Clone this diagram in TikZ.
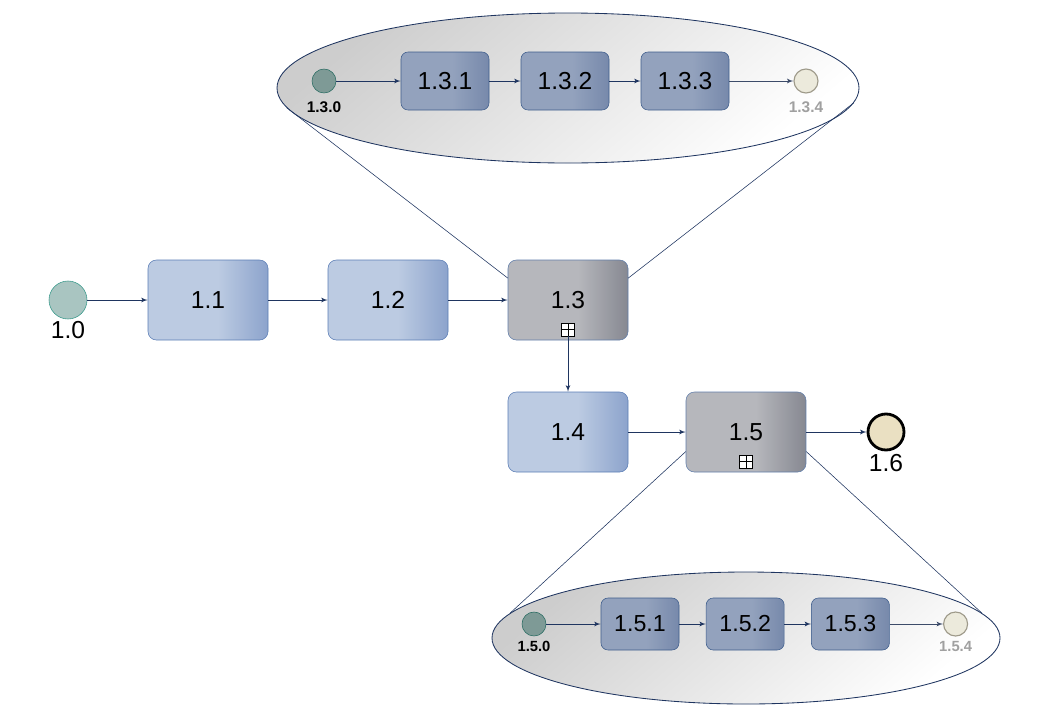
\documentclass[tikz,border=0pt]{standalone}
\usepackage{fontspec}
\setmainfont{Liberation Sans}
\usepackage{xcolor}
\usepackage{tikz}
\usetikzlibrary{shapes,arrows,positioning}

\definecolor{navy}{HTML}{1F3560}
\definecolor{taskfill}{HTML}{BCCBE2}
\definecolor{taskdark}{HTML}{8CA3CC}
\definecolor{taskline}{HTML}{5A7DB5}
\definecolor{subfill}{HTML}{B6B7BC}
\definecolor{subdark}{HTML}{868891}
\definecolor{innerfill}{HTML}{93A2BD}
\definecolor{innerdark}{HTML}{7789AB}
\definecolor{innerline}{HTML}{3E5D8C}
\definecolor{startfill}{HTML}{A9C5C1}
\definecolor{startline}{HTML}{3A9A8C}
\definecolor{substartfill}{HTML}{7E9A96}
\definecolor{endfill}{HTML}{EAE0C2}
\definecolor{subendfill}{HTML}{ECEADC}
\definecolor{subendline}{HTML}{9E9A8A}
\definecolor{ellgray}{HTML}{CDCDCD}
\definecolor{fadedtext}{HTML}{A0A0A0}

\pgfdeclarehorizontalshading[taskfill,taskdark]{taskshade}{100bp}{color(0bp)=(taskfill); color(25bp)=(taskfill);
    color(54bp)=(taskfill); color(75bp)=(taskdark); color(100bp)=(taskdark)}
\pgfdeclarehorizontalshading[subfill,subdark]{subshade}{100bp}{color(0bp)=(subfill); color(25bp)=(subfill);
    color(54bp)=(subfill); color(75bp)=(subdark); color(100bp)=(subdark)}
\pgfdeclarehorizontalshading[innerfill,innerdark]{innershade}{100bp}{color(0bp)=(innerfill); color(25bp)=(innerfill);
    color(54bp)=(innerfill); color(75bp)=(innerdark); color(100bp)=(innerdark)}

\tikzstyle{task} = [rectangle, draw=taskline, shading=taskshade, rounded corners=6pt,
    minimum width=3cm, minimum height=2cm, font=\fontsize{17.5}{20}\selectfont]
\tikzstyle{subproc} = [task, draw=taskline!80!gray, shading=subshade]
\tikzstyle{innertask} = [task, draw=innerline, shading=innershade, rounded corners=5pt]
\tikzstyle{start} = [circle, draw=startline, fill=startfill, minimum size=0.95cm, inner sep=0pt]
\tikzstyle{substart} = [circle, draw=startline!70!black, fill=substartfill, minimum size=0.6cm, inner sep=0pt]
\tikzstyle{finish} = [circle, draw=black, line width=2pt, fill=endfill, minimum size=0.9cm, inner sep=0pt]
\tikzstyle{subend} = [circle, draw=subendline, line width=0.8pt, fill=subendfill, minimum size=0.6cm, inner sep=0pt]
\tikzstyle{plusbox} = [rectangle, draw=black, fill=white, minimum size=0.32cm, inner sep=0pt,
    path picture={\draw [line width=0.5pt] (path picture bounding box.north) -- (path picture bounding box.south)
    (path picture bounding box.west) -- (path picture bounding box.east);}]
\tikzstyle{zoomell} = [ellipse, draw=navy, line width=0.6pt, top color=ellgray, middle color=ellgray!90!white,
    bottom color=white, shading angle=40]
\tikzstyle{biglabel} = [font=\fontsize{17.5}{20}\selectfont]
\tikzstyle{smalllabel} = [font=\bfseries\fontsize{11}{13}\selectfont]
\tikzstyle{line} = [draw=navy, line width=0.6pt, -latex']
\tikzstyle{zoomline} = [draw=navy, line width=0.4pt]

\begin{document}
\begin{tikzpicture}[node distance = 4.5cm, auto]
    \useasboundingbox (0,0) rectangle (25.95,-18.15);

    % Zoomed sub-processes (drawn first, behind)
    \node [zoomell, minimum width=14.55cm, minimum height=3.75cm] (zoom_13) at (14.2,-2.2) {};
    \node [zoomell, minimum width=12.7cm, minimum height=3.3cm] (zoom_15) at (18.65,-15.95) {};

    % Place nodes
    \node [start] (node_10) at (1.7,-7.5) {};
    \node [task, right of=node_10, node distance=3.5cm] (node_11) {1.1};
    \node [task, right of=node_11] (node_12) {1.2};
    \node [subproc, right of=node_12] (node_13) {1.3};
    \node [task, below of=node_13, node distance=3.3cm] (node_14) {1.4};
    \node [subproc, right of=node_14, node distance=4.45cm] (node_15) {1.5};
    \node [finish, right of=node_15, node distance=3.5cm] (node_16) {};
    \node [plusbox, above=0.1cm of node_13.south] (plus_13) {};
    \node [plusbox, above=0.1cm of node_15.south] (plus_15) {};
    \node [biglabel, below of=node_10, node distance=0.75cm] (label_10) {1.0};
    \node [biglabel, below of=node_16, node distance=0.78cm] (label_16) {1.6};

    % Inside 1.3
    \node [substart] (node_130) at (8.1,-2.025) {};
    \node [innertask, minimum width=2.2cm, minimum height=1.45cm] (node_131) at (11.125,-2.025) {1.3.1};
    \node [innertask, minimum width=2.2cm, minimum height=1.45cm, right of=node_131, node distance=3cm] (node_132) {1.3.2};
    \node [innertask, minimum width=2.2cm, minimum height=1.45cm, right of=node_132, node distance=3cm] (node_133) {1.3.3};
    \node [subend, right of=node_133, node distance=3.025cm] (node_134) {};
    \node [smalllabel, below of=node_130, node distance=0.65cm] (label_130) {1.3.0};
    \node [smalllabel, text=fadedtext, below of=node_134, node distance=0.65cm] (label_134) {1.3.4};

    % Inside 1.5
    \node [substart] (node_150) at (13.35,-15.6) {};
    \node [innertask, minimum width=1.95cm, minimum height=1.3cm, font=\fontsize{16.5}{18}\selectfont] (node_151) at (16.0,-15.6) {1.5.1};
    \node [innertask, minimum width=1.95cm, minimum height=1.3cm, font=\fontsize{16.5}{18}\selectfont, right of=node_151, node distance=2.63cm] (node_152) {1.5.2};
    \node [innertask, minimum width=1.95cm, minimum height=1.3cm, font=\fontsize{16.5}{18}\selectfont, right of=node_152, node distance=2.63cm] (node_153) {1.5.3};
    \node [subend, right of=node_153, node distance=2.63cm] (node_154) {};
    \node [smalllabel, font=\bfseries\fontsize{10.5}{12}\selectfont, below of=node_150, node distance=0.56cm] (label_150) {1.5.0};
    \node [smalllabel, font=\bfseries\fontsize{10.5}{12}\selectfont, text=fadedtext, below of=node_154, node distance=0.56cm] (label_154) {1.5.4};

    \path [line] (node_10) -- (node_11);
    \path [line] (node_11) -- (node_12);
    \path [line] (node_12) -- (node_13);
    \path [line] (plus_13) -- (node_14);
    \path [line] (node_14) -- (node_15);
    \path [line] (node_15) -- (node_16);

    \path [line] (node_130) -- (node_131);
    \path [line] (node_131) -- (node_132);
    \path [line] (node_132) -- (node_133);
    \path [line, draw=navy!70!gray] (node_133) -- (node_134);
    \path [line] (node_150) -- (node_151);
    \path [line] (node_151) -- (node_152);
    \path [line] (node_152) -- (node_153);
    \path [line, draw=navy!70!gray] (node_153) -- (node_154);

    \path [zoomline] (zoom_13.184) -- (node_13.160);
    \path [zoomline] (zoom_13.357) -- (node_13.20);
    \path [zoomline] (zoom_15.174) -- (node_15.198);
    \path [zoomline] (zoom_15.6) -- (node_15.342);

\end{tikzpicture}
\end{document}
